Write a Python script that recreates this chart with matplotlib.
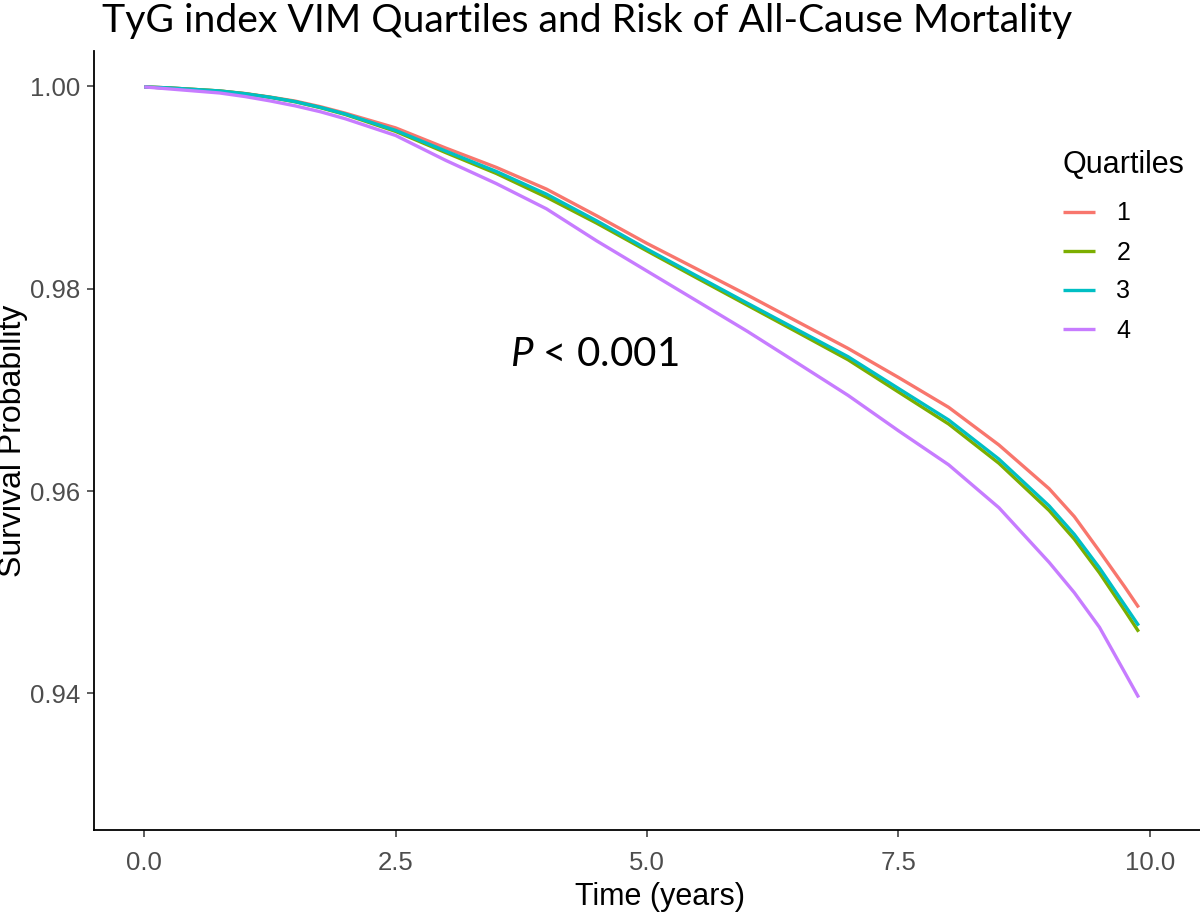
import matplotlib
matplotlib.use("Agg")
import matplotlib.pyplot as plt

plt.rcParams['font.family'] = ['Liberation Sans', 'DejaVu Sans']
plt.rcParams['mathtext.fontset'] = 'custom'
plt.rcParams['mathtext.it'] = 'Lato:italic'
plt.rcParams['mathtext.rm'] = 'Lato'

time = [0, 0.25, 0.5, 0.75, 1.0, 1.25, 1.5, 1.75, 2.0, 2.5, 3.0, 3.5, 4.0, 4.5,
        5.0, 5.5, 6.0, 6.5, 7.0, 7.5, 8.0, 8.5, 9.0, 9.25, 9.5, 9.75, 9.89]

q1 = [0.99995, 0.99985, 0.99970, 0.99955, 0.99930, 0.99895, 0.99855, 0.99800, 0.99735,
      0.99590, 0.99390, 0.99200, 0.98985, 0.98721, 0.98448, 0.98193, 0.97937, 0.97673,
      0.97410, 0.97124, 0.96828, 0.96456, 0.96023, 0.95748, 0.95406, 0.95055, 0.94850]
q2 = [0.99995, 0.99985, 0.99970, 0.99955, 0.99928, 0.99892, 0.99848, 0.99790, 0.99722,
      0.99555, 0.99345, 0.99140, 0.98905, 0.98648, 0.98374, 0.98104, 0.97836, 0.97568,
      0.97298, 0.96980, 0.96663, 0.96275, 0.95808, 0.95525, 0.95192, 0.94822, 0.94610]
q3 = [0.99995, 0.99985, 0.99970, 0.99955, 0.99928, 0.99893, 0.99850, 0.99793, 0.99727,
      0.99565, 0.99360, 0.99160, 0.98935, 0.98671, 0.98392, 0.98124, 0.97856, 0.97592,
      0.97328, 0.97015, 0.96703, 0.96316, 0.95853, 0.95572, 0.95241, 0.94875, 0.94670]
q4 = [0.99995, 0.99975, 0.99955, 0.99935, 0.99900, 0.99857, 0.99808, 0.99750, 0.99680,
      0.99515, 0.99268, 0.99040, 0.98790, 0.98473, 0.98175, 0.97877, 0.97578, 0.97263,
      0.96946, 0.96597, 0.96260, 0.95836, 0.95295, 0.94996, 0.94654, 0.94210, 0.93960]

series = [q1, q2, q3, q4]
labels = ['1', '2', '3', '4']
colors = ['#F8766D', '#7CAE00', '#00BFC4', '#C77CFF']

xticks = [0.0, 2.5, 5.0, 7.5, 10.0]
xticklabels = ['0.0', '2.5', '5.0', '7.5', '10.0']
yticks = [0.94, 0.96, 0.98, 1.00]
yticklabels = ['0.94', '0.96', '0.98', '1.00']

fig = plt.figure(figsize=(12, 9.13), dpi=100)
ax = fig.add_axes([94/1200, 83/913, 1 - 94/1200, (830-51)/913])

for s, lab, c in zip(series, labels, colors):
    ax.plot(time, s, color=c, lw=2.4, label=lab, solid_capstyle='butt')

ax.set_xlim(-0.5, 10.5)
ax.set_ylim(0.9265, 1.0035)
ax.set_xticks(xticks)
ax.set_xticklabels(xticklabels)
ax.set_yticks(yticks)
ax.set_yticklabels(yticklabels)
ax.tick_params(axis='both', labelsize=18.5, labelcolor='#4D4D4D', color='#333333',
               length=5, width=1.1)
ax.tick_params(axis='x', pad=10)
ax.tick_params(axis='y', pad=5)
for sp in ['top', 'right']:
    ax.spines[sp].set_visible(False)
for sp in ['left', 'bottom']:
    ax.spines[sp].set_linewidth(1.3)
    ax.spines[sp].set_color('black')

ax.set_xlabel('Time (years)', fontsize=22)
ax.xaxis.set_label_coords((660 - 94) / 1106, -(897 - 830) / 779)
ax.xaxis.label.set_va('center')
ax.set_ylabel('Survival Probability', fontsize=23)
ax.yaxis.set_label_coords((13 - 94) / 1106, 0.5)
ax.yaxis.label.set_va('center')

ax.text(4.48, 0.9735, r'$P$ < 0.001', fontsize=29, family='Lato',
        ha='center', va='center')

fig.text(102/1200, 1 - 32/913, 'TyG index VIM Quartiles and Risk of All-Cause Mortality',
         fontsize=28.2, family='Lato', ha='left', va='baseline')

fig.text(1063/1200, 1 - 165/913, 'Quartiles', fontsize=22, ha='left', va='center')
leg = ax.legend(loc='upper left', bbox_to_anchor=(1045/1200, 1 - 184/913),
                bbox_transform=fig.transFigure, frameon=False, fontsize=18,
                handlelength=1.3, handletextpad=0.85, labelspacing=0.6,
                borderpad=0.2)

fig.savefig('out.png', dpi=100)
